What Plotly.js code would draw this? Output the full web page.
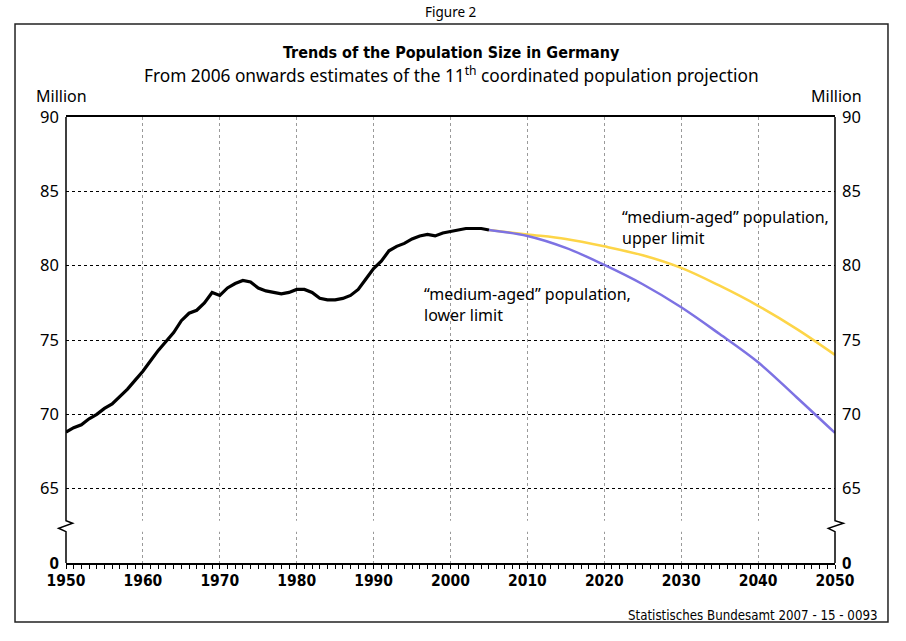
<!DOCTYPE html>
<html>
<head>
<meta charset="utf-8">
<script src="https://cdn.plot.ly/plotly-3.0.1.min.js"></script>
<style>html,body{margin:0;padding:0;background:#fff;} #chart{width:906px;height:641px;}</style>
</head>
<body>
<div id="chart"></div>
<script>
// Historical population (million), Germany
const histYears = [1950,1951,1952,1953,1954,1955,1956,1957,1958,1959,
  1960,1961,1962,1963,1964,1965,1966,1967,1968,1969,
  1970,1971,1972,1973,1974,1975,1976,1977,1978,1979,
  1980,1981,1982,1983,1984,1985,1986,1987,1988,1989,
  1990,1991,1992,1993,1994,1995,1996,1997,1998,1999,
  2000,2001,2002,2003,2004,2005];
const histValues = [68.8,69.1,69.3,69.7,70.0,70.4,70.7,71.2,71.7,72.3,
  72.9,73.6,74.3,74.9,75.5,76.3,76.8,77.0,77.5,78.2,
  78.0,78.5,78.8,79.0,78.9,78.5,78.3,78.2,78.1,78.2,
  78.4,78.4,78.2,77.8,77.7,77.7,77.8,78.0,78.4,79.1,
  79.8,80.3,81.0,81.3,81.5,81.8,82.0,82.1,82.0,82.2,
  82.3,82.4,82.5,82.5,82.5,82.4];

// Projection (11th coordinated population projection)
const projYears = [2005,2010,2015,2020,2025,2030,2035,2040,2045,2050];
const lowerLimit = [82.4,82.0,81.2,80.05,78.75,77.2,75.4,73.5,71.15,68.75];
const upperLimit = [82.4,82.1,81.8,81.3,80.7,79.85,78.65,77.3,75.75,74.0];

// Axis ticks
const yTickVals = [60,65,70,75,80,85,90];
const yTickText = ['<b>0</b>','65','70','75','80','85','90'];
const xTickVals = [1950,1960,1970,1980,1990,2000,2010,2020,2030,2040,2050];

const traces = [
  {x: projYears, y: upperLimit, type:'scatter', mode:'lines',
   line:{color:'#fdd548', width:2.5, shape:'spline', smoothing:1}, hoverinfo:'x+y', showlegend:false},
  {x: projYears, y: lowerLimit, type:'scatter', mode:'lines',
   line:{color:'#7d72e3', width:2.5, shape:'spline', smoothing:1}, hoverinfo:'x+y', showlegend:false},
  {x: histYears, y: histValues, type:'scatter', mode:'lines',
   line:{color:'#000', width:3.2}, hoverinfo:'x+y', showlegend:false},
  {x: [histYears[0]], y: [yTickVals[0]], yaxis:'y2', type:'scatter', mode:'markers',
   marker:{opacity:0}, hoverinfo:'skip', showlegend:false}
];

const F = '"Noto Sans", "Open Sans", sans-serif';
const FC = '"DejaVu Sans Condensed", "Liberation Sans Narrow", sans-serif';

const yCommon = {
  range:[60,90], tickvals:yTickVals, ticktext:yTickText,
  zeroline:false, showline:false, ticks:'', fixedrange:true,
  tickfont:{family:F, size:16.5, color:'#000'}
};

const layout = {
  width:906, height:641,
  margin:{l:66, r:71, t:117, b:78, pad:0},
  paper_bgcolor:'#fff', plot_bgcolor:'#fff',
  showlegend:false,
  xaxis:{
    range:[1950,2050], tickvals:xTickVals, showgrid:true, gridcolor:'#9a9a9a', griddash:'dot', gridwidth:1,
    zeroline:false, showline:true, linecolor:'#000', linewidth:2, mirror:true,
    ticks:'outside', ticklen:4, tickcolor:'#000', tickwidth:1, ticklabelstandoff:-2,
    minor:{dtick:1, ticks:'outside', ticklen:4, tickcolor:'#000', tickwidth:1, showgrid:false},
    tickfont:{family:FC, size:15.5, color:'#000', weight:'bold'}
  },
  yaxis: Object.assign({}, yCommon, {side:'left', showgrid:true, gridcolor:'#000', griddash:'dot', gridwidth:1, ticklabelstandoff:6}),
  yaxis2: Object.assign({}, yCommon, {side:'right', overlaying:'y', showgrid:false, ticklabelstandoff:6}),
  shapes:[
    // outer frame
    {type:'rect', xref:'paper', yref:'paper', x0:-0.0663, x1:1.0689, y0:-0.1323, y1:1.2085,
     line:{color:'#222', width:1.5}, fillcolor:'rgba(0,0,0,0)', layer:'below'},
    // white gap at axis break
    {type:'rect', xref:'paper', yref:'paper', x0:0.002, x1:0.998, y0:0.0702, y1:0.0948,
     line:{width:0}, fillcolor:'#fff', layer:'above'},
    // left axis with break
    {type:'path', xref:'paper', yref:'paper',
     path:'M 0 0 L 0 0.0702 L -0.0096 0.0778 L 0.0086 0.089 L 0 0.0948 L 0 1',
     line:{color:'#000', width:1.5}, layer:'above'},
    // right axis with break
    {type:'path', xref:'paper', yref:'paper',
     path:'M 1 0 L 1 0.0702 L 0.9913 0.0778 L 1.0108 0.089 L 1 0.0948 L 1 1',
     line:{color:'#000', width:1.5}, layer:'above'}
  ],
  annotations:[
    {xref:'paper', yref:'paper', x:0.5013, y:1.2354, text:'Figure 2', showarrow:false,
     xanchor:'center', yanchor:'middle', font:{family:F, size:13.5, color:'#000'}},
    {xref:'paper', yref:'paper', x:0.5013, y:1.1435, text:'<b>Trends of the Population Size in Germany</b>', showarrow:false,
     xanchor:'center', yanchor:'middle', font:{family:FC, size:16, color:'#000'}},
    {xref:'paper', yref:'paper', x:0.5013, y:1.0942, text:'From 2006 onwards estimates of the 11<sup>th</sup> coordinated population projection', showarrow:false,
     xanchor:'center', yanchor:'middle', font:{family:F, size:17.3, color:'#000'}},
    {xref:'paper', yref:'paper', x:-0.041, y:1.0465, text:'Million', showarrow:false,
     xanchor:'left', yanchor:'middle', font:{family:F, size:16, color:'#000'}},
    {xref:'paper', yref:'paper', x:1.0378, y:1.0465, text:'Million', showarrow:false,
     xanchor:'right', yanchor:'middle', font:{family:F, size:16, color:'#000'}},
    {xref:'x', yref:'y', x:2022.1, y:82.56, text:'“medium-aged” population,<br>upper limit', showarrow:false,
     xanchor:'left', yanchor:'middle', align:'left', font:{family:F, size:16, color:'#000'}},
    {xref:'x', yref:'y', x:1996.3, y:77.42, text:'“medium-aged” population,<br>lower limit', showarrow:false,
     xanchor:'left', yanchor:'middle', align:'left', font:{family:F, size:16, color:'#000'}},
    {xref:'paper', yref:'paper', x:1.0585, y:-0.1166, text:'Statistisches Bundesamt 2007 - 15 - 0093', showarrow:false,
     xanchor:'right', yanchor:'middle', font:{family:FC, size:13.2, color:'#000'}}
  ]
};

Plotly.newPlot('chart', traces, layout, {displayModeBar:false, staticPlot:true});
</script>
</body>
</html>
